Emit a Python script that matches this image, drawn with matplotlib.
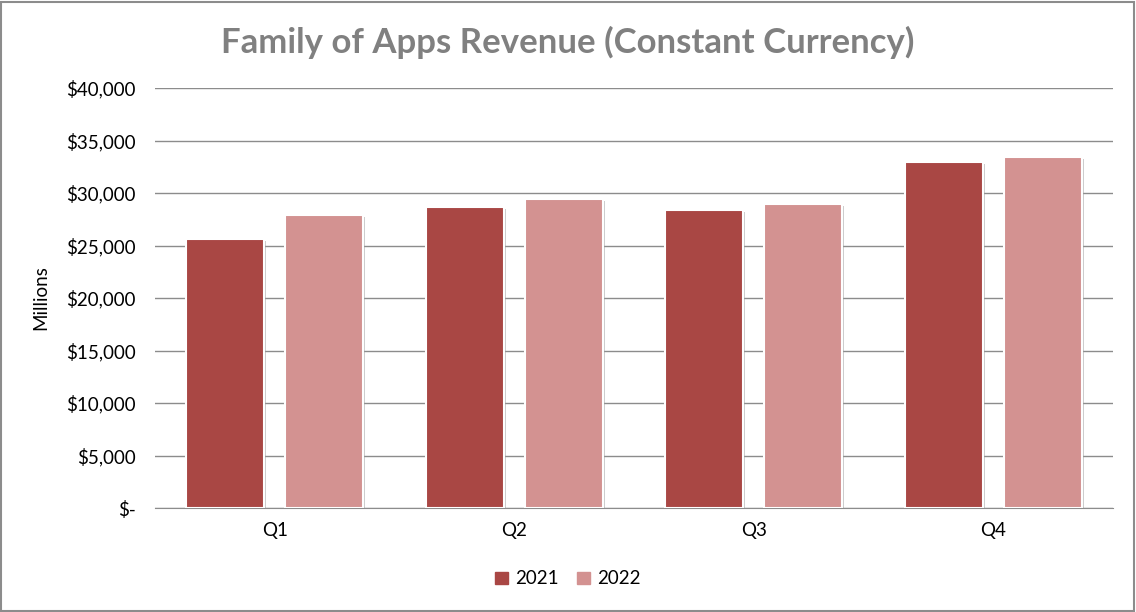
import matplotlib
matplotlib.use("Agg")
import matplotlib.pyplot as plt
import matplotlib.patheffects as pe
from matplotlib.patches import Rectangle
from matplotlib.ticker import FuncFormatter, MultipleLocator
import numpy as np

plt.rcParams['font.family'] = ['Lato', 'DejaVu Sans']

quarters = ['Q1', 'Q2', 'Q3', 'Q4']
rev_2021 = [25600, 28700, 28400, 33000]
rev_2022 = [27900, 29400, 29000, 33400]
series_names = ['2021', '2022']
series_colors = ['#A94744', '#D39291']

fig = plt.figure(figsize=(11.36, 6.12), dpi=100)
ax = fig.add_axes([0.1364, 0.1699, 0.8434, 0.6863])

x = np.arange(len(quarters))
width = 0.326
offset = 0.207
shadow = [pe.withSimplePatchShadow(offset=(1.5, -1.5), shadow_rgbFace='#999999', alpha=0.5)]
for i, (vals, name, col) in enumerate(zip([rev_2021, rev_2022], series_names, series_colors)):
    bars = ax.bar(x + (i * 2 - 1) * offset, vals, width, color=col, edgecolor='white',
                  linewidth=1.5, label=name, zorder=3)
    for b in bars:
        b.set_path_effects(shadow)

ax.set_xlim(-0.5, 3.5)
ax.set_ylim(0, 40000)
ax.yaxis.set_major_locator(MultipleLocator(5000))
ax.yaxis.set_major_formatter(FuncFormatter(lambda v, p: '$-' if v == 0 else f'${v:,.0f}'))
ax.set_xticks(x)
ax.set_xticklabels(quarters)
ax.grid(axis='y', color='#8c8c8c', linewidth=1, zorder=0)
for s in ['top', 'right', 'left']:
    ax.spines[s].set_visible(False)
ax.spines['bottom'].set_color('#8c8c8c')
ax.tick_params(axis='both', length=0, labelsize=13.5, colors='black')
ax.tick_params(axis='y', pad=14)
ax.tick_params(axis='x', pad=10)

ax.set_ylabel('Millions', fontsize=13.5, labelpad=12)
fig.text(0.5, 0.93, 'Family of Apps Revenue (Constant Currency)', ha='center', va='center',
         fontsize=25, fontweight='bold', color='#808080')

handles = [Rectangle((0, 0), 1, 1, color=c) for c in series_colors]
fig.legend(handles, series_names, loc='center', bbox_to_anchor=(0.5, 0.054), ncol=2,
           frameon=False, fontsize=13.5, handlelength=0.65, handleheight=0.65,
           columnspacing=1.0, handletextpad=0.4)

fig.patches.append(Rectangle((0.001, 0.002), 0.997, 0.995, transform=fig.transFigure,
                             fill=False, edgecolor='#8c8c8c', linewidth=1.5))

fig.savefig('out.png', dpi=100)
